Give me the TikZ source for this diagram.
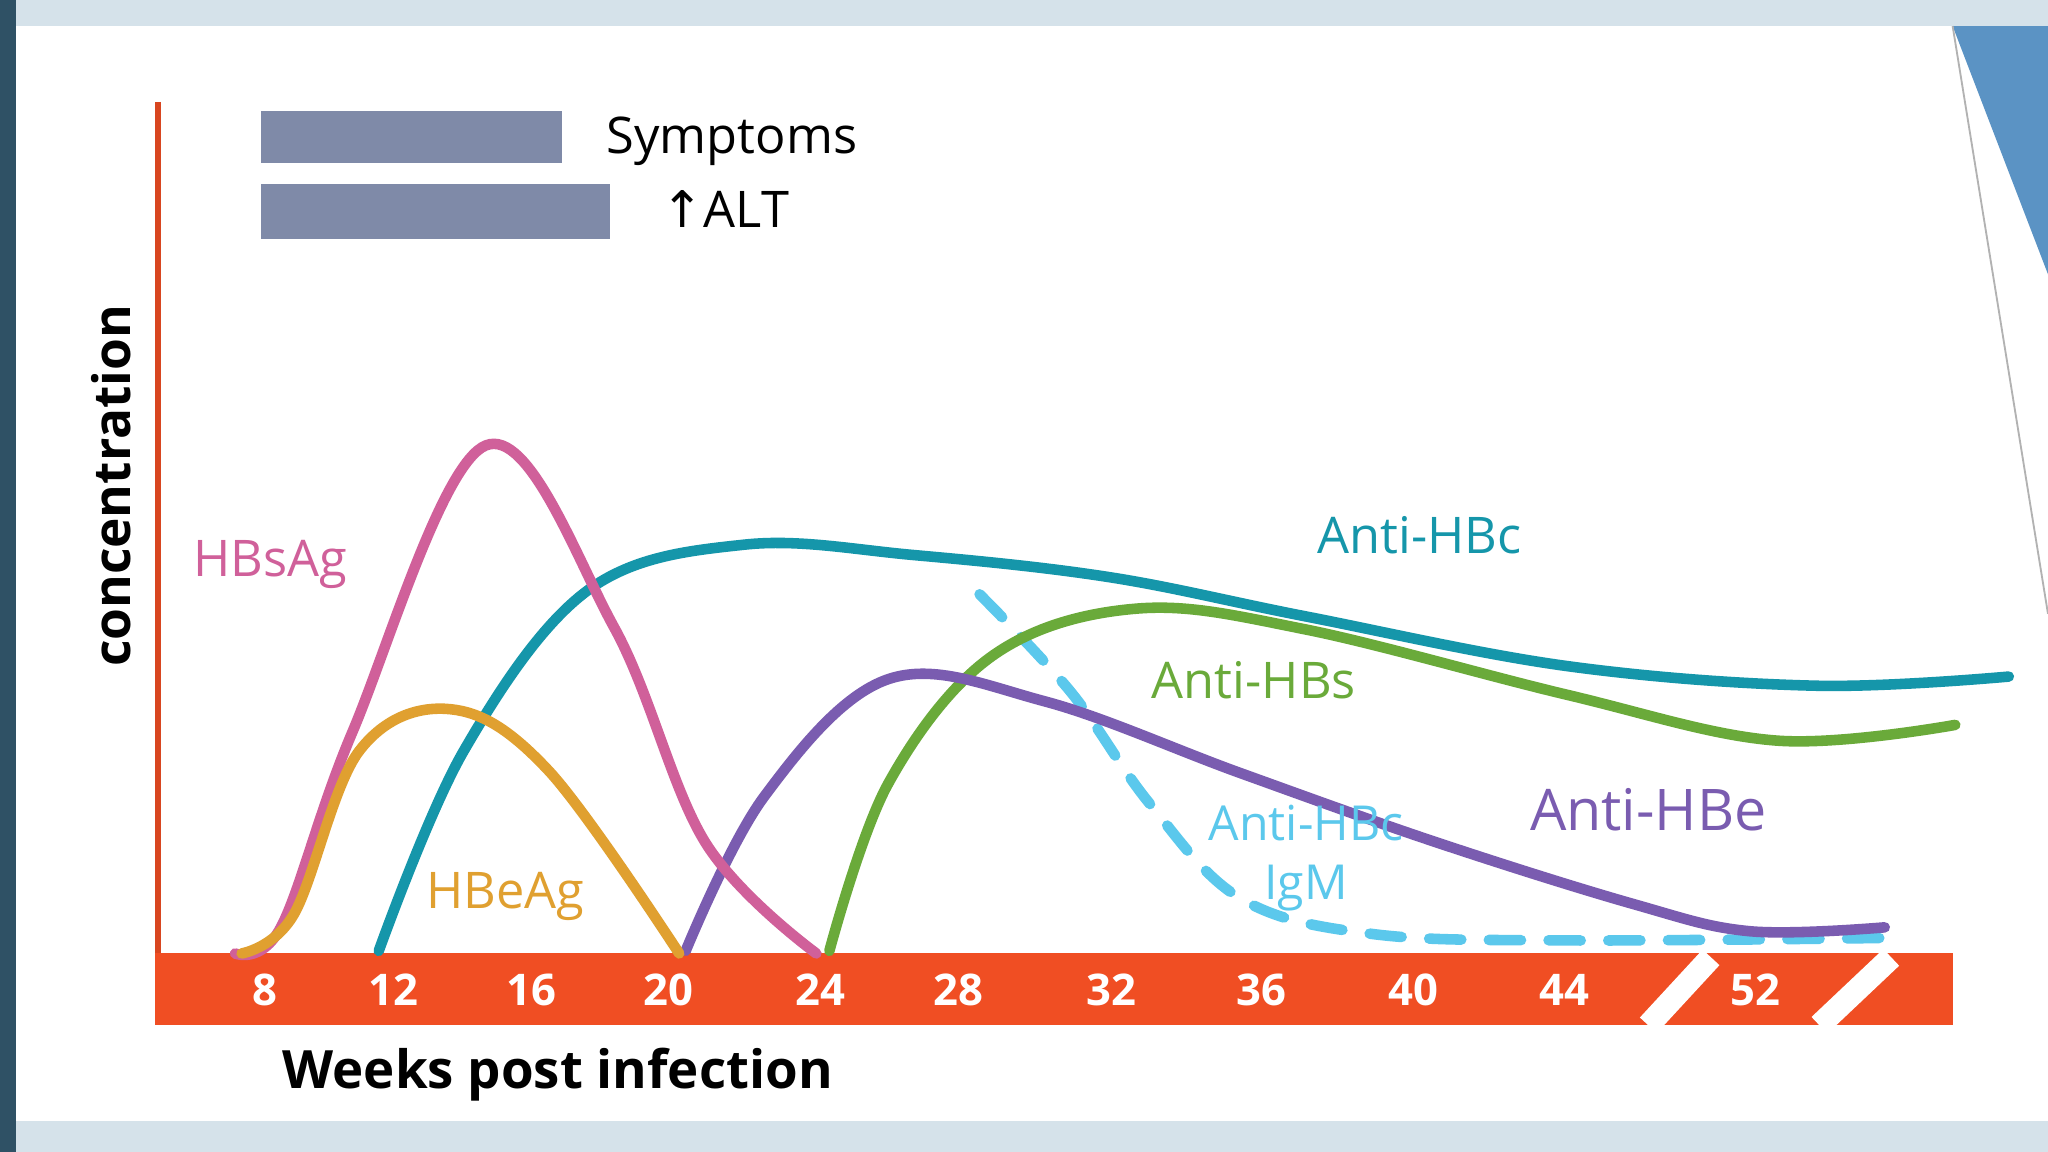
\documentclass[tikz,border=0pt]{standalone}
\usepackage{fontspec}
\setmainfont{Open Sans}
\newfontfamily\djv{DejaVu Sans}
\begin{document}
\begin{tikzpicture}[x=0.01cm,y=-0.01cm,
 crv/.style={line width=2.3pt,line cap=round},
 lbl/.style={font=\fontsize{11}{13}\selectfont},
 tck/.style={text=white,font=\fontsize{9.5}{11}\selectfont\bfseries}]
\definecolor{frame}{HTML}{D5E2EA}
\definecolor{dark}{HTML}{2F5165}
\definecolor{leg}{HTML}{7F8AA8}
\definecolor{bar}{HTML}{F04E23}
\definecolor{pinkc}{HTML}{D0609A}
\definecolor{orc}{HTML}{E0A030}
\definecolor{tealc}{HTML}{1596AA}
\definecolor{grc}{HTML}{6AAA3A}
\definecolor{puc}{HTML}{7A5CB0}
\definecolor{ltb}{HTML}{5BC8EC}
\definecolor{tri}{HTML}{5B93C4}
\useasboundingbox (0,0) rectangle (1568,882);
\fill[frame] (0,0) rectangle (1568,882);
\fill[dark] (0,0) rectangle (12,882);
\fill[white] (12,20) rectangle (1568,858);
\fill[tri] (1495,20) -- (1568,20) -- (1568,210) -- cycle;
\draw[gray!60] (1495,20) -- (1568,470);
% legend
\fill[leg] (200,85) rectangle (430,125);
\fill[leg] (200,141) rectangle (467,183);
\node[lbl,anchor=west] (sym) at (452,108) {Symptoms};
\node[lbl,anchor=west] (alt) at (494,160) {{\djv ↑}ALT};
% axis
\draw[bar!90!black,line width=1.5pt] (121,78) -- (121,785);
\fill[bar] (119,730) rectangle (1495,785);
\foreach \x/\t in {203/8,301/12,407/16,512/20,628/24,734/28,851/32,966/36,1082/40,1198/44,1344/52}
  \node[tck] at (\x,758) {\t};
\draw[white,line width=5pt] (1262,785) -- (1310,733);
\draw[white,line width=5pt] (1393,785) -- (1448,733);
\node[font=\fontsize{11.5}{14}\selectfont\bfseries] (xl) at (427,823) {Weeks post infection};
\node[font=\fontsize{11.2}{14}\selectfont\bfseries,rotate=90] (yl) at (85,372) {concentration};
% curves
\draw[crv,ltb,dash pattern=on 7pt off 6pt] plot[smooth,tension=0.6] coordinates{(750,455) (820,530) (880,615) (950,688) (1050,715) (1200,720) (1452,718)};
\draw[crv,tealc] plot[smooth,tension=0.6] coordinates{(290,728) (355,575) (450,452) (570,417) (700,425) (850,442) (1000,472) (1200,510) (1390,525) (1538,518)};
\draw[crv,grc] plot[smooth,tension=0.6] coordinates{(635,728) (680,600) (760,502) (870,466) (1000,482) (1200,532) (1360,567) (1497,555)};
\draw[crv,puc] plot[smooth,tension=0.6] coordinates{(525,728) (585,610) (680,520) (800,537) (950,592) (1100,645) (1250,692) (1340,713) (1443,710)};
\draw[crv,pinkc] plot[smooth,tension=0.6] coordinates{(180,730) (215,710) (270,560) (372,341) (470,480) (540,645) (625,730)};
\draw[crv,orc] plot[smooth,tension=0.6] coordinates{(185,730) (225,700) (275,575) (345,543) (420,590) (520,730)};
% labels
\node[lbl,text=pinkc] (l1) at (207,432) {HBsAg};
\node[lbl,text=orc] (l2) at (387,686) {HBeAg};
\node[lbl,text=tealc] (l3) at (1087,410) {Anti-HBc};
\node[lbl,text=grc] (l4) at (960,521) {Anti-HBs};
\node[font=\fontsize{12.5}{14}\selectfont,text=puc] (l5) at (1262,620) {Anti-HBe};
\node[font=\fontsize{10.5}{13}\selectfont,text=ltb,align=center] (l6) at (1000,657) {Anti-HBc\\IgM};
\end{tikzpicture}
\end{document}
